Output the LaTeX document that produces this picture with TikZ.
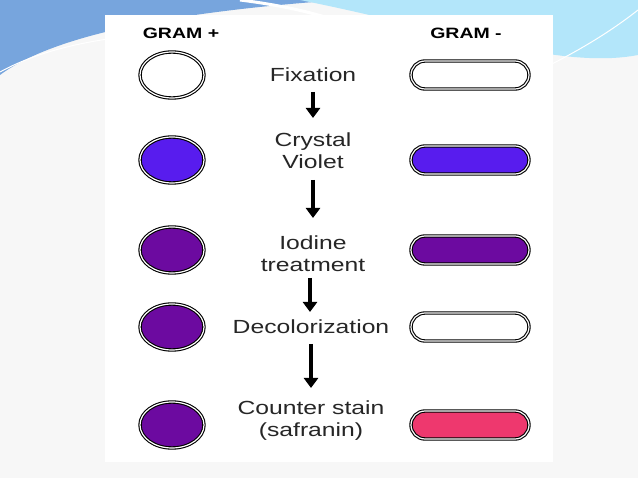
\documentclass[tikz,border=0pt]{standalone}
\usepackage{fontspec}
\setmainfont{Liberation Sans}
\usetikzlibrary{arrows.meta}
\newcommand{\widetxt}[1]{\scalebox{1.3}[1]{#1}}
\begin{document}
\begin{tikzpicture}[x=1pt,y=-1pt,
  lbl/.style={font=\fontsize{19}{22}\selectfont, align=center, text=black!85},
  hdr/.style={font=\bfseries\fontsize{15}{18}\selectfont},
  arr/.style={line width=4pt,-{Triangle[length=10pt,width=14pt]}},
  cellA/.style={draw=black, line width=3.4pt, fill=#1},
  cellB/.style={draw=white, line width=1.2pt}]
\useasboundingbox (0,0) rectangle (638,478);
\fill[gray!6] (0,0) rectangle (638,478);
% swooshes
\fill[cyan!55!blue!55] (0,0) -- (340,0) .. controls (200,10) and (60,30) .. (0,75) -- cycle;
\fill[cyan!30] (300,0) -- (638,0) -- (638,55) .. controls (560,70) and (450,30) .. (300,0) -- cycle;
\draw[white, line width=3pt] (240,0) .. controls (280,5) and (310,12) .. (335,20);
\draw[white, line width=1pt] (0,72) .. controls (40,50) and (90,40) .. (140,35);
\draw[white, line width=1pt] (638,10) .. controls (600,40) and (560,60) .. (540,70);
% panel
\fill[white] (105,15) rectangle (553,462);
\node[hdr] (gp) at (181,33) {\widetxt{GRAM +}};
\node[hdr] (gn) at (466,33) {\widetxt{GRAM -}};
% cells
\foreach \y/\c/\d in {75/white/white,160/{rgb,255:red,88;green,28;blue,238}/{rgb,255:red,88;green,28;blue,238},
  250/{rgb,255:red,108;green,10;blue,160}/{rgb,255:red,108;green,10;blue,160},
  327/{rgb,255:red,108;green,10;blue,160}/white,425/{rgb,255:red,108;green,10;blue,160}/{rgb,255:red,238;green,56;blue,110}}{
  \filldraw[cellA=\c] (172,\y) ellipse [x radius=32, y radius=23];
  \draw[cellB] (172,\y) ellipse [x radius=32, y radius=23];
  \filldraw[cellA=\d, rounded corners=14pt] (411,\y-14) rectangle (529,\y+14);
  \draw[cellB, rounded corners=14pt] (411,\y-14) rectangle (529,\y+14);
}
% steps
\node[lbl] (s1) at (313,75) {\widetxt{Fixation}};
\node[lbl] (s2) at (313,151) {\widetxt{Crystal}\\\widetxt{Violet}};
\node[lbl] (s3) at (313,254) {\widetxt{Iodine}\\\widetxt{treatment}};
\node[lbl] (s4) at (311,327) {\widetxt{Decolorization}};
\node[lbl] (s5) at (311,421) {\widetxt{Counter stain}\\\widetxt{(safranin)}};
\coordinate (a1) at (313,92); \coordinate (b1) at (313,118);
\coordinate (a2) at (313,180); \coordinate (b2) at (313,218);
\coordinate (a3) at (310,278); \coordinate (b3) at (310,312);
\coordinate (a4) at (311,344); \coordinate (b4) at (311,388);
\foreach \i in {1,...,4}{\draw[arr] (a\i) -- (b\i);}
\end{tikzpicture}
\end{document}
